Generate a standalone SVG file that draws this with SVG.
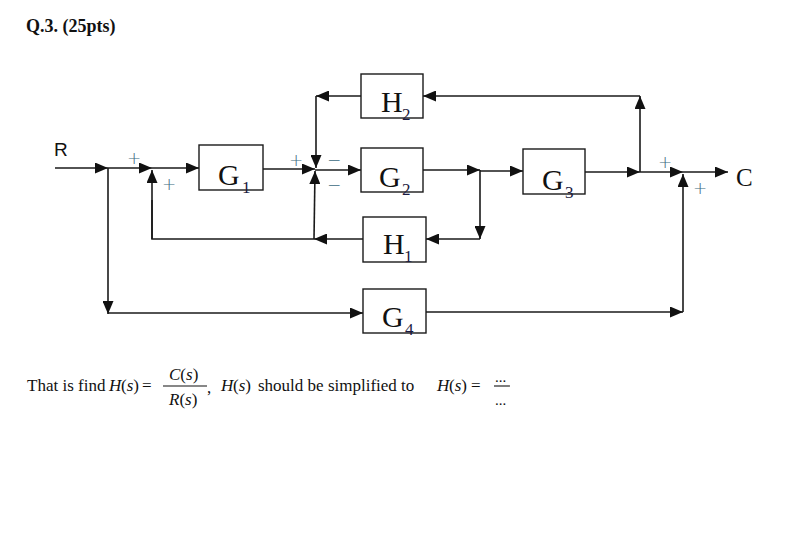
<svg xmlns="http://www.w3.org/2000/svg" width="808" height="560" viewBox="0 0 808 560">
<defs>
<marker id="ah" markerUnits="userSpaceOnUse" markerWidth="13" markerHeight="11" refX="13" refY="5.5" orient="auto">
<path d="M0,0 L13,5.5 L0,11 z" fill="#111"/>
</marker>
<style>
.w{stroke:#1a1a1a;stroke-width:1.6;fill:none}
.a{marker-end:url(#ah)}
.box{fill:#fff;stroke:#1a1a1a;stroke-width:1.4}
.lbl{font-family:"Liberation Serif","Times New Roman",serif;font-size:30px;fill:#111}
.sub{font-family:"Liberation Serif","Times New Roman",serif;font-size:17px;fill:#1a1a40}
.sg{font-family:"DejaVu Sans",sans-serif;font-size:17px;font-weight:200;fill:#3d6b80}
.t{font-family:"Liberation Serif","Times New Roman",serif;font-size:17px;fill:#111}
.big{font-size:25px}
.dot{font-size:15px}
.i{font-style:italic}
</style>
</defs>
<rect width="808" height="560" fill="#fff"/>
<text x="26" y="32" font-family="Liberation Serif,Times New Roman,serif" font-size="18" font-weight="bold" fill="#111">Q.3. (25pts)</text>
<g id="connectors">
<line class="w a" x1="55" y1="168" x2="108" y2="168"/>
<line class="w a" x1="108" y1="168" x2="152" y2="168"/>
<line class="w a" x1="152" y1="168" x2="199" y2="168"/>
<line class="w a" x1="108" y1="168" x2="108" y2="314"/>
<line class="w a" x1="108" y1="313" x2="363" y2="313"/>
<line class="w a" x1="426" y1="312" x2="683" y2="312"/>
<line class="w a" x1="683" y1="312" x2="683" y2="174"/>
<line class="w a" x1="263" y1="169" x2="315" y2="169"/>
<line class="w a" x1="315" y1="170" x2="361" y2="170"/>
<line class="w a" x1="423" y1="170" x2="480" y2="170"/>
<line class="w a" x1="480" y1="171" x2="523" y2="171"/>
<line class="w a" x1="480" y1="170" x2="480" y2="239"/>
<line class="w a" x1="480" y1="239" x2="426" y2="239"/>
<line class="w a" x1="363" y1="239" x2="314" y2="239"/>
<polyline class="w" points="314,239 152,239 152,200"/>
<line class="w a" x1="152" y1="239" x2="152" y2="170"/>
<line class="w a" x1="314" y1="239" x2="315" y2="171"/>
<line class="w a" x1="585" y1="172" x2="640" y2="172"/>
<line class="w a" x1="640" y1="172" x2="683" y2="172"/>
<line class="w a" x1="683" y1="172" x2="728" y2="172"/>
<line class="w a" x1="640" y1="172" x2="640" y2="96"/>
<line class="w a" x1="640" y1="96" x2="423" y2="96"/>
<line class="w a" x1="361" y1="96" x2="316" y2="96"/>
<line class="w a" x1="316" y1="96" x2="316" y2="168"/>
</g>
<g id="R"><text x="54" y="156" font-family="Liberation Sans,Arial,sans-serif" font-size="19" fill="#111">R</text></g>
<g id="C"><text x="736" y="186" class="t big">C</text></g>
<g id="sum1">
<text class="sg" x="127" y="164">+</text>
<text class="sg" x="162" y="190">+</text>
</g>
<g id="sum2">
<text class="sg" x="289" y="166">+</text>
<text class="sg" x="327" y="166">−</text>
<text class="sg" x="327" y="191">−</text>
</g>
<g id="sum3">
<text class="sg" x="658" y="168">+</text>
<text class="sg" x="693" y="194">+</text>
</g>
<g id="G1"><rect class="box" x="199" y="145" width="64" height="45"/><text class="lbl" x="218" y="185">G</text><text class="sub" x="242" y="193">1</text></g>
<g id="G2"><rect class="box" x="361" y="148" width="62" height="44"/><text class="lbl" x="379" y="187">G</text><text class="sub" x="402" y="195">2</text></g>
<g id="G3"><rect class="box" x="523" y="149" width="62" height="45"/><text class="lbl" x="542" y="190">G</text><text class="sub" x="565" y="198">3</text></g>
<g id="G4"><rect class="box" x="363" y="289" width="63" height="44"/><text class="lbl" x="382" y="327">G</text><text class="sub" x="405" y="335">4</text></g>
<g id="H1"><rect class="box" x="363" y="217" width="63" height="45"/><text class="lbl" x="383" y="254">H</text><text class="sub" x="404" y="262">1</text></g>
<g id="H2"><rect class="box" x="361" y="74" width="62" height="44"/><text class="lbl" x="381" y="112">H</text><text class="sub" x="402" y="120">2</text></g>
<g id="formula">
<text class="t" x="27" y="391">That is find</text>
<text class="t i" x="109" y="391">H</text><text class="t" x="121" y="391">(<tspan class="i">s</tspan>)</text>
<text class="t" x="142" y="391">=</text>
<line x1="163" y1="386" x2="207" y2="386" stroke="#111" stroke-width="1.1"/>
<text class="t" x="169" y="380"><tspan class="i">C</tspan>(<tspan class="i">s</tspan>)</text>
<text class="t" x="169" y="405"><tspan class="i">R</tspan>(<tspan class="i">s</tspan>)</text>
<text class="t" x="207" y="393">,</text>
<text class="t i" x="221" y="391">H</text><text class="t" x="233" y="391">(<tspan class="i">s</tspan>)</text>
<text class="t" x="258" y="391">should be simplified to</text>
<text class="t i" x="437" y="391">H</text><text class="t" x="449" y="391">(<tspan class="i">s</tspan>)</text>
<text class="t" x="471" y="391">=</text>
<line x1="494" y1="386" x2="510" y2="386" stroke="#111" stroke-width="1.1"/>
<text class="t dot" x="495" y="382">...</text>
<text class="t dot" x="495" y="405">...</text>
</g>
</svg>
